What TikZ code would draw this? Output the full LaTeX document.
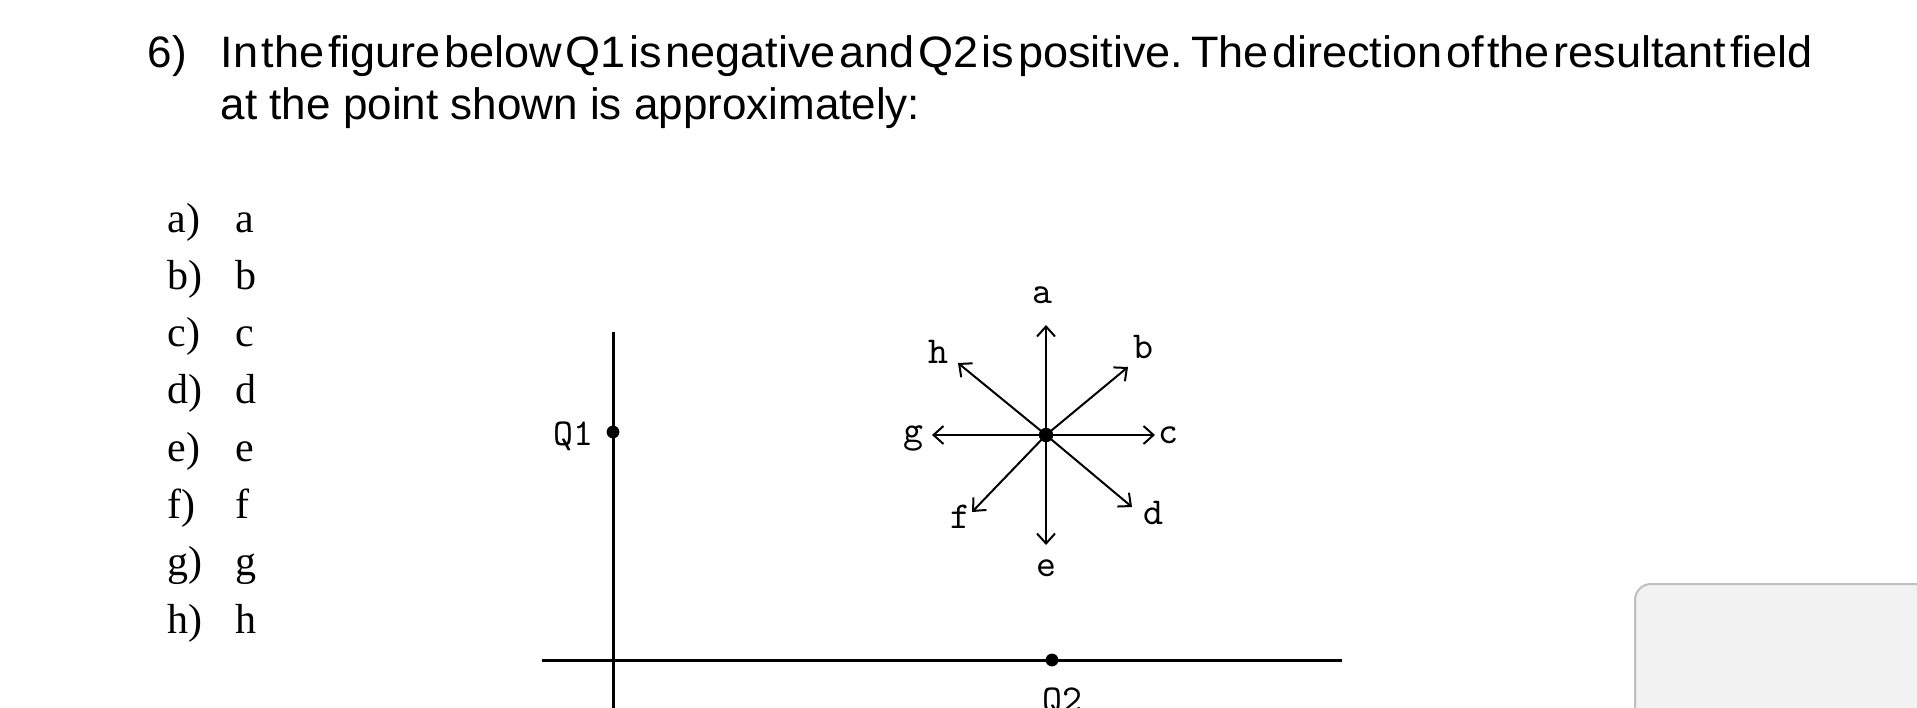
\documentclass[tikz,border=0pt]{standalone}
\usepackage{fontspec}
\setmainfont{Liberation Serif}
\newfontfamily\titlefont{Liberation Sans}
\usetikzlibrary{arrows.meta}
\tikzset{>={Straight Barb[length=2.5pt,width=4.5pt]}}
\tikzset{
  charge/.style={circle, fill, inner sep=0pt, minimum size=3.2pt},
  lbl/.style={font=\ttfamily\fontsize{9.5}{10}\selectfont, inner sep=0pt},
  opt/.style={anchor=base west, inner sep=0pt, font=\fontsize{10.5}{12}\selectfont},
  quest/.style={anchor=base west, inner sep=0pt, font=\titlefont\fontsize{11}{13}\selectfont},
  field/.style={->, line width=0.5pt},
  axis/.style={line width=0.75pt}
}

\begin{document}
\begin{tikzpicture}[x=0.25pt, y=-0.25pt]
    \clip (0,0) rectangle (1917,707);
    % question text
    \node[quest] (num) at (147,67) {6)};
    \node[quest] (line1) at (220,67) {\resizebox{398pt}{\height}{\spaceskip=0.08em In the figure below Q1 is negative and Q2 is positive. The direction of the resultant field}};
    \node[quest] (line2) at (220,119) {at the point shown is approximately:};
    % choices
    \node[opt] (opta) at (167,232.0) {\makebox[17pt][l]{a)}a};
    \node[opt] (optb) at (167,289.3) {\makebox[17pt][l]{b)}b};
    \node[opt] (optc) at (167,346.6) {\makebox[17pt][l]{c)}c};
    \node[opt] (optd) at (167,403.9) {\makebox[17pt][l]{d)}d};
    \node[opt] (opte) at (167,461.2) {\makebox[17pt][l]{e)}e};
    \node[opt] (optf) at (167,518.5) {\makebox[17pt][l]{f)}f};
    \node[opt] (optg) at (167,575.8) {\makebox[17pt][l]{g)}g};
    \node[opt] (opth) at (167,633.1) {\makebox[17pt][l]{h)}h};
    % axes and charges
    \coordinate (ytop) at (613,332);
    \coordinate (ybot) at (613,720);
    \coordinate (xleft) at (542,660);
    \coordinate (xright) at (1342,660);
    \draw[axis] (ytop) -- (ybot);
    \draw[axis] (xleft) -- (xright);
    \node[charge] (q1) at (613,432) {};
    \node[charge] (q2) at (1052,660) {};
    \node[lbl, anchor=base east] (q1lbl) at (594,445) {Q1};
    \node[lbl, anchor=base] (q2lbl) at (1062,711) {Q2};
    % field point and directions
    \node[circle, fill, inner sep=0pt, minimum size=3.6pt] (pt) at (1046,435) {};
    \coordinate (ta) at (1046,325);
    \coordinate (tb) at (1128,367);
    \coordinate (tc) at (1155,435);
    \coordinate (td) at (1132,507);
    \coordinate (te) at (1046,545);
    \coordinate (tf) at (972,512);
    \coordinate (tg) at (932,435);
    \coordinate (th) at (958,363);
    \draw[field] (pt.center) -- (ta);
    \draw[field] (pt.center) -- (tb);
    \draw[field] (pt.center) -- (tc);
    \draw[field] (pt.center) -- (td);
    \draw[field] (pt.center) -- (te);
    \draw[field] (pt.center) -- (tf);
    \draw[field] (pt.center) -- (tg);
    \draw[field] (pt.center) -- (th);
    \node[lbl] (la) at (1042,295) {a};
    \node[lbl] (lb) at (1143,347) {b};
    \node[lbl] (lc) at (1168,435) {c};
    \node[lbl] (ld) at (1153,513) {d};
    \node[lbl] (le) at (1046,568) {e};
    \node[lbl] (lf) at (960,517) {f};
    \node[lbl] (lg) at (913,438) {g};
    \node[lbl] (lh) at (938,352) {h};
    % answer box
    \draw[rounded corners=4pt, fill=gray!10, draw=gray!50, line width=0.5pt] (1635,584) rectangle (1980,760);
\end{tikzpicture}
\end{document}
